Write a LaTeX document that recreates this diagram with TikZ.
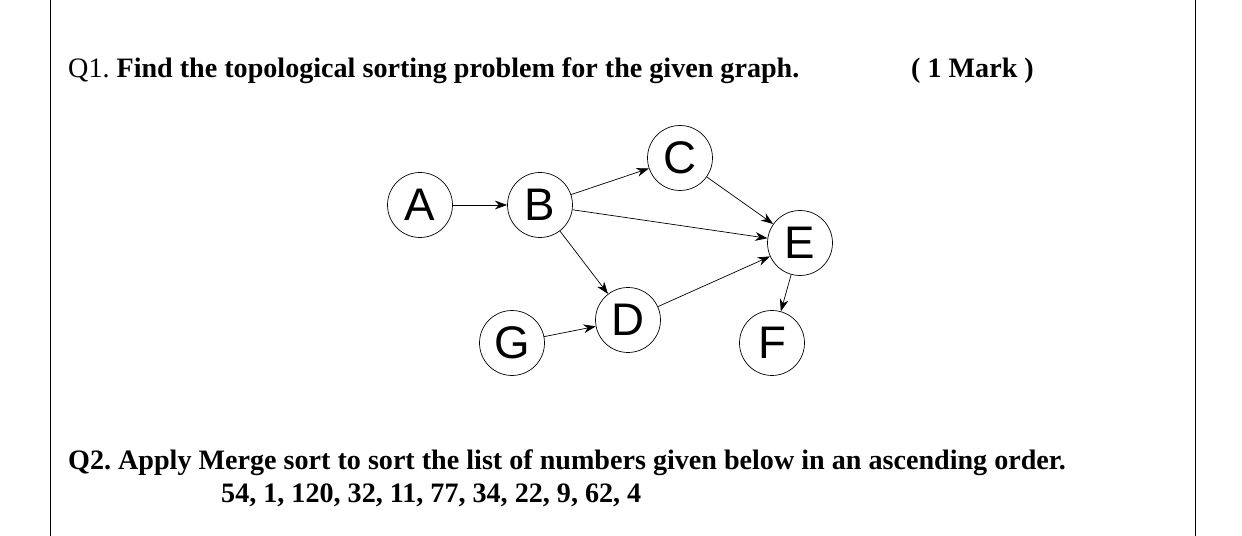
\documentclass[tikz,border=0pt]{standalone}
\usepackage{fontspec}
\setmainfont{Liberation Serif}
\newfontfamily\vertexfont{Liberation Sans}
\usetikzlibrary{arrows.meta}
\begin{document}
\begin{tikzpicture}[x=0.02cm,y=-0.02cm]
\tikzstyle{vertex}=[draw,circle,minimum size=1.3cm,inner sep=0pt,font=\vertexfont\fontsize{26}{26}\selectfont]
\tikzstyle{edge}=[-{Stealth[length=7pt,width=5pt]},thin]
\useasboundingbox (0,0) rectangle (1242,536);
\draw (50,0) -- (50,536);
\draw (1195,0) -- (1195,536);
\node[anchor=base west,font=\fontsize{16}{18}\selectfont] (q1) at (62,78) {Q1.\ \textbf{Find the topological sorting problem for the given graph.}};
\node[anchor=base west,font=\fontsize{16}{18}\selectfont\bfseries] (mark) at (905,78) {( 1 Mark )};
\node[vertex] (A) at (420,205) {A};
\node[vertex] (B) at (540,205) {B};
\node[vertex] (C) at (680,158) {C};
\node[vertex] (E) at (800,243) {E};
\node[vertex] (D) at (628,320) {D};
\node[vertex] (G) at (512,343) {G};
\node[vertex] (F) at (772,343) {F};
\draw[edge] (A) -- (B);
\draw[edge] (B) -- (C);
\draw[edge] (B) -- (E);
\draw[edge] (B) -- (D);
\draw[edge] (C) -- (E);
\draw[edge] (D) -- (E);
\draw[edge] (G) -- (D);
\draw[edge] (E) -- (F);
\node[anchor=base west,font=\fontsize{16}{18}\selectfont\bfseries] (q2) at (62,470) {Q2.\ Apply Merge sort to sort the list of numbers given below in an ascending order.};
\node[anchor=base west,font=\fontsize{16}{18}\selectfont\bfseries] (list) at (215,503) {54, 1, 120, 32, 11, 77, 34, 22, 9, 62, 4};
\end{tikzpicture}
\end{document}
